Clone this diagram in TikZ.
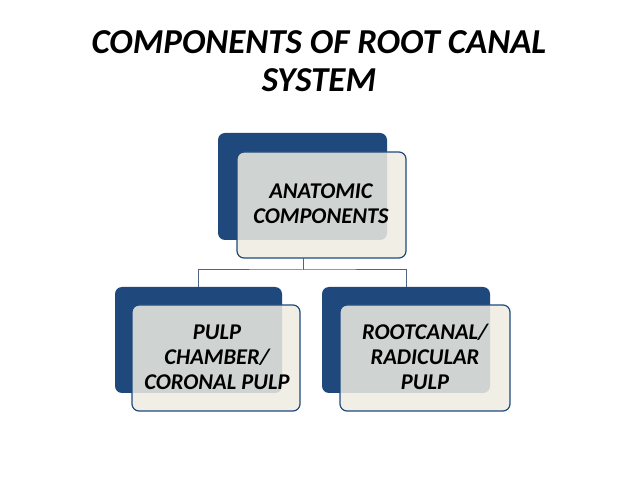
\documentclass[tikz,border=0pt]{standalone}
\usepackage{fontspec}
\setmainfont{Carlito}
\begin{document}
\begin{tikzpicture}[x=1pt,y=-1pt,
  dark/.style={fill={rgb,255:red,31;green,73;blue,125}, rounded corners=7pt},
  light/.style={draw={rgb,255:red,31;green,73;blue,125}, line width=1.2pt, fill={rgb,255:red,238;green,236;blue,225}, fill opacity=0.85, rounded corners=7pt},
  lbl/.style={font=\bfseries\itshape\fontsize{22.5}{25}\selectfont, align=center},
  conn/.style={draw={rgb,255:red,80;green,100;blue,130}, line width=1pt}]
\useasboundingbox (0,0) rectangle (638,478);
\node[font=\bfseries\itshape\fontsize{35}{38}\selectfont, align=center] (title) at (319,61) {COMPONENTS OF ROOT CANAL\\SYSTEM};
\fill[dark] (218,133) rectangle (387,240);
\fill[dark] (115,287) rectangle (282,393);
\fill[dark] (322,287) rectangle (490,393);
\path[light] (237,152) rectangle (406,258);
\node[lbl] (top) at (321,204) {ANATOMIC\\COMPONENTS};
\path[light] (132,305) rectangle (300,411);
\node[lbl] (left) at (217,357) {PULP\\CHAMBER/\\CORONAL PULP};
\path[light] (340,305) rectangle (510,411);
\node[lbl] (right) at (425,357) {ROOTCANAL/\\RADICULAR\\PULP};
\coordinate (a) at (303,258);
\coordinate (b) at (303,270);
\coordinate (l) at (198,287);
\coordinate (r) at (406,287);
\draw[conn] (a) -- (b);
\draw[conn] (l) |- (b) -| (r);
\end{tikzpicture}
\end{document}
